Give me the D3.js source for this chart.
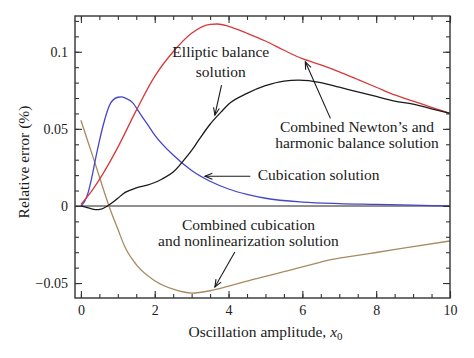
<!DOCTYPE html>
<html><head><meta charset="utf-8">
<script src="https://cdn.jsdelivr.net/npm/d3@7/dist/d3.min.js"></script>
<style>body{margin:0;background:#fff}svg{display:block}</style>
</head><body>
<svg id="chart" width="474" height="358"></svg>
<script>
// ---- data ----
const xTicks = [0, 2, 4, 6, 8, 10];
const yTicks = [-0.05, 0, 0.05, 0.1];
const yTickLabels = ["\u22120.05", "0", "0.05", "0.1"];

const redX = [0, 0.3, 0.6, 1.0, 1.5, 2.0, 2.5, 3.0, 3.5, 3.7, 4.0, 4.5, 5.0, 5.5, 6.0, 6.5, 7.0, 7.5, 8.0, 8.5, 9.0, 9.5, 10];
const redY = [0.001, 0.010, 0.021, 0.038, 0.062, 0.084, 0.100, 0.112, 0.1178, 0.118, 0.1165, 0.112, 0.107, 0.101, 0.0955, 0.0915, 0.087, 0.082, 0.077, 0.072, 0.068, 0.064, 0.060];

const blueX = [0, 0.1, 0.2, 0.3, 0.4, 0.5, 0.6, 0.8, 1.0, 1.1, 1.2, 1.4, 1.6, 1.8, 2.0, 2.5, 3.0, 3.5, 4.0, 4.5, 5.0, 6.0, 7.0, 8.0, 9.0, 10];
const blueY = [0, 0.003, 0.009, 0.019, 0.031, 0.042, 0.052, 0.0665, 0.0705, 0.0708, 0.070, 0.067, 0.060, 0.053, 0.046, 0.033, 0.023, 0.016, 0.011, 0.0075, 0.005, 0.0025, 0.0015, 0.001, 0.0005, 0.0];

const blackX = [0, 0.2, 0.4, 0.55, 0.72, 0.9, 1.0, 1.2, 1.5, 1.8, 2.0, 2.2, 2.5, 2.8, 3.0, 3.2, 3.5, 3.8, 4.0, 4.5, 5.0, 5.5, 5.9, 6.5, 7.0, 7.5, 8.0, 8.5, 9.0, 9.5, 10];
const blackY = [0, -0.0012, -0.0024, -0.002, 0, 0.003, 0.005, 0.0088, 0.0117, 0.0135, 0.0152, 0.0175, 0.022, 0.030, 0.036, 0.043, 0.053, 0.061, 0.066, 0.073, 0.078, 0.081, 0.0816, 0.080, 0.077, 0.074, 0.071, 0.068, 0.066, 0.063, 0.060];

const brownX = [0, 0.2, 0.4, 0.6, 0.76, 1.0, 1.2, 1.5, 2.0, 2.5, 3.0, 3.5, 4.0, 4.5, 5.0, 5.5, 6.0, 6.5, 6.8, 7.0, 8.0, 9.0, 10];
const brownY = [0.0556, 0.041, 0.0265, 0.0115, 0, -0.015, -0.027, -0.038, -0.0485, -0.054, -0.0565, -0.055, -0.052, -0.0487, -0.0457, -0.0426, -0.0395, -0.0364, -0.0346, -0.0339, -0.0302, -0.0264, -0.0227];

// annotation texts and anchor points (data coordinates)
const annotations = [
  {lines: ["Elliptic balance", "solution"], x: 3.79, y: [0.0965, 0.0836], anchor: "middle",
   arrow: [[3.81, 0.0784], [3.63, 0.0589]]},
  {lines: ["Combined Newton\u2019s and", "harmonic balance solution"], x: 7.48, y: [0.048, 0.0377], anchor: "middle",
   arrow: [[6.76, 0.0568], [6.08, 0.0935]]},
  {lines: ["Cubication solution"], x: 4.79, y: [0.0167], anchor: "start",
   arrow: [[4.59, 0.0193], [3.36, 0.0193]]},
  {lines: ["Combined cubication", "and nonlinearization solution"], x: 4.54, y: [-0.0155, -0.0262], anchor: "middle",
   arrow: [[4.17, -0.0299], [3.63, -0.0526]]}
];

// ---- layout ----
const svg = d3.select("#chart");
const L = 75, R = 450, T = 16, B = 298;
const x = d3.scaleLinear().domain([-0.16, 10]).range([L, R]);
const y = d3.scaleLinear().domain([-0.0597, 0.1232]).range([B, T]);
const font = "'Liberation Serif', 'Times New Roman', serif";
const axisColor = "#333";

// curves
const line = d3.line().x(d => x(d[0])).y(d => y(d[1])).curve(d3.curveMonotoneX);
const zip = (a, b) => a.map((v, i) => [v, b[i]]);

// zero line
svg.append("line").attr("x1", L).attr("x2", R).attr("y1", y(0)).attr("y2", y(0))
  .attr("stroke", "#222").attr("stroke-width", 1.1);

const series = [
  {d: zip(brownX, brownY), c: "#a88a60"},
  {d: zip(blueX, blueY), c: "#4545c8"},
  {d: zip(redX, redY), c: "#d8383a"},
  {d: zip(blackX, blackY), c: "#1a1a1a"}
];
series.forEach(s => {
  svg.append("path").attr("d", line(s.d)).attr("fill", "none")
    .attr("stroke", s.c).attr("stroke-width", 1.3);
});

// axes with inward ticks on all four sides
const minorX = d3.range(0, 10.001, 0.5);
const minorY = d3.range(-0.05, 0.1201, 0.01).map(v => +v.toFixed(3));
function drawAxis(gen, transform) {
  const g = svg.append("g").attr("transform", transform).call(gen);
  g.select(".domain").remove();
  g.selectAll("line").attr("stroke", axisColor).attr("stroke-width", 1.1);
  g.selectAll("text").attr("font-family", font).attr("font-size", 14).attr("fill", "#222");
  return g;
}
// bottom
drawAxis(d3.axisBottom(x).tickValues(minorX).tickSize(-4).tickFormat(""), `translate(0,${B})`);
drawAxis(d3.axisBottom(x).tickValues(xTicks).tickSize(-7).tickPadding(7).tickFormat(d3.format("d")), `translate(0,${B})`);
// top
drawAxis(d3.axisTop(x).tickValues(minorX).tickSize(-4).tickFormat(""), `translate(0,${T})`);
drawAxis(d3.axisTop(x).tickValues(xTicks).tickSize(-7).tickFormat(""), `translate(0,${T})`);
// left
drawAxis(d3.axisLeft(y).tickValues(minorY).tickSize(-4).tickFormat(""), `translate(${L},0)`);
drawAxis(d3.axisLeft(y).tickValues(yTicks).tickSize(-7).tickPadding(7).tickFormat((d, i) => yTickLabels[i]), `translate(${L},0)`);
// right
drawAxis(d3.axisRight(y).tickValues(minorY).tickSize(-4).tickFormat(""), `translate(${R},0)`);
drawAxis(d3.axisRight(y).tickValues(yTicks).tickSize(-7).tickFormat(""), `translate(${R},0)`);

// frame
svg.append("rect").attr("x", L).attr("y", T).attr("width", R - L).attr("height", B - T)
  .attr("fill", "none").attr("stroke", axisColor).attr("stroke-width", 1.4);

// annotations
annotations.forEach(a => {
  a.lines.forEach((t, i) => {
    svg.append("text").attr("x", x(a.x)).attr("y", y(a.y[i]))
      .attr("text-anchor", a.anchor).attr("font-family", font).attr("font-size", 15.5)
      .attr("fill", "#1a1a1a").text(t);
  });
  const [p0, p1] = a.arrow;
  const x0 = x(p0[0]), y0 = y(p0[1]), x1 = x(p1[0]), y1 = y(p1[1]);
  svg.append("line").attr("x1", x0).attr("y1", y0).attr("x2", x1).attr("y2", y1)
    .attr("stroke", "#1a1a1a").attr("stroke-width", 1.1);
  const ang = Math.atan2(y1 - y0, x1 - x0), hl = 8, ha = 0.38;
  const hp = d3.path();
  hp.moveTo(x1 - hl * Math.cos(ang - ha), y1 - hl * Math.sin(ang - ha));
  hp.lineTo(x1, y1);
  hp.lineTo(x1 - hl * Math.cos(ang + ha), y1 - hl * Math.sin(ang + ha));
  svg.append("path").attr("d", hp.toString()).attr("fill", "none")
    .attr("stroke", "#1a1a1a").attr("stroke-width", 1.1);
});

// axis titles
svg.append("text").attr("transform", `translate(29,${(T + B) / 2 + 5}) rotate(-90)`)
  .attr("text-anchor", "middle").attr("font-family", font).attr("font-size", 15.5)
  .attr("fill", "#1a1a1a").text("Relative error (%)");
const xt = svg.append("text").attr("x", (L + R) / 2 + 3).attr("y", 337)
  .attr("text-anchor", "middle").attr("font-family", font).attr("font-size", 15.5).attr("fill", "#1a1a1a");
xt.append("tspan").text("Oscillation amplitude, ");
xt.append("tspan").attr("font-style", "italic").text("x");
xt.append("tspan").attr("font-size", 11).attr("dy", 3).text("0");
</script>
</body></html>
